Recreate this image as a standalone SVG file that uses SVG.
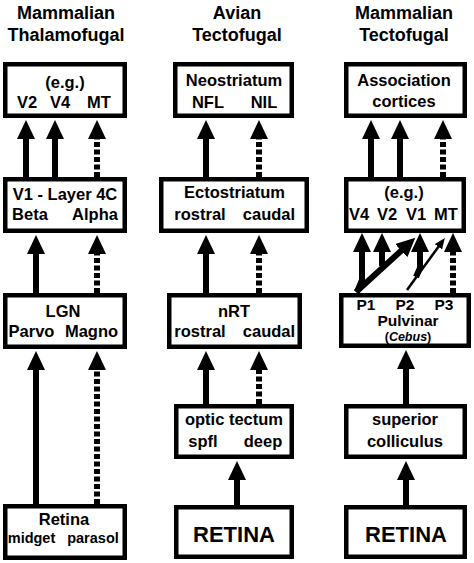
<svg xmlns="http://www.w3.org/2000/svg" width="474" height="563" viewBox="0 0 474 563">
<style>
.box{fill:#fff;stroke:#000;stroke-width:4.5}
text{font-family:"Liberation Sans",Arial,sans-serif;font-weight:bold;fill:#000;text-anchor:middle}
.t{font-size:18px}
.b{font-size:16.5px}
.p{font-size:15.5px}
.s{font-size:14.5px}
.r{font-size:22px}
.c{font-size:12.5px;font-weight:bold}
.sh{stroke:#000;stroke-width:6;fill:none}
.d{stroke-dasharray:5 2.5}
.th{stroke:#000;stroke-width:2.5;fill:none}
</style>
<defs>
<marker id="ah" markerUnits="userSpaceOnUse" markerWidth="20" markerHeight="18" refX="1" refY="9" orient="auto">
<path d="M0,0 L19,9 L0,18 z" fill="#000"/>
</marker>
<marker id="ahs" markerUnits="userSpaceOnUse" markerWidth="12" markerHeight="9" refX="1" refY="4.5" orient="auto">
<path d="M0,0 L11,4.5 L0,9 z" fill="#000"/>
</marker>
</defs>
<g id="titles">
<text class="t" x="66" y="19">Mammalian</text>
<text class="t" x="66" y="41">Thalamofugal</text>
<text class="t" x="237" y="19">Avian</text>
<text class="t" x="237" y="41">Tectofugal</text>
<text class="t" x="404" y="19">Mammalian</text>
<text class="t" x="404" y="41">Tectofugal</text>
</g>
<g id="n-eg1"><rect class="box" x="5.25" y="64.25" width="119.5" height="51.5"/>
<text class="b" x="65" y="88">(e.g.)</text>
<text class="b" x="27" y="108">V2</text><text class="b" x="60" y="108">V4</text><text class="b" x="99" y="108">MT</text></g>
<g id="n-v1"><rect class="box" x="5.25" y="179.25" width="119.5" height="51.5"/>
<text class="b" x="65" y="200">V1 - Layer 4C</text>
<text class="b" x="30" y="220">Beta</text><text class="b" x="95" y="220">Alpha</text></g>
<g id="n-lgn"><rect class="box" x="5.25" y="295.25" width="119.5" height="51.5"/>
<text class="b" x="63" y="317">LGN</text>
<text class="b" x="31.5" y="337">Parvo</text><text class="b" x="91.5" y="337">Magno</text></g>
<g id="n-retina1"><rect class="box" x="5.25" y="506.25" width="119.5" height="51.5"/>
<text class="b" x="64" y="525">Retina</text>
<text class="s" x="31.5" y="543">midget</text><text class="s" x="93" y="543">parasol</text></g>

<g id="n-neo"><rect class="box" x="175.25" y="64.25" width="116.5" height="51.5"/>
<text class="b" x="234" y="86">Neostriatum</text>
<text class="b" x="208" y="108">NFL</text><text class="b" x="264" y="108">NIL</text></g>
<g id="n-ecto"><rect class="box" x="161.25" y="179.25" width="145.5" height="51.5"/>
<text class="b" x="234.5" y="198">Ectostriatum</text>
<text class="b" x="200" y="220">rostral</text><text class="b" x="269" y="220">caudal</text></g>
<g id="n-nrt"><rect class="box" x="169.25" y="295.25" width="130.5" height="51.5"/>
<text class="b" x="234" y="317">nRT</text>
<text class="b" x="200" y="337">rostral</text><text class="b" x="269" y="337">caudal</text></g>
<g id="n-ot"><rect class="box" x="176.25" y="406.25" width="115.5" height="50.5"/>
<text class="b" x="234" y="425">optic tectum</text>
<text class="b" x="203" y="447">spfl</text><text class="b" x="263" y="447">deep</text></g>
<g id="n-retina2"><rect class="box" x="176.25" y="507.25" width="115.5" height="49.5"/>
<text class="r" x="234" y="542">RETINA</text></g>

<g id="n-assoc"><rect class="box" x="346.25" y="64.25" width="118.5" height="51.5"/>
<text class="b" x="404" y="86">Association</text>
<text class="b" x="404" y="107">cortices</text></g>
<g id="n-eg3"><rect class="box" x="346.25" y="179.25" width="117.5" height="51.5"/>
<text class="b" x="404" y="198">(e.g.)</text>
<text class="b" x="359" y="220">V4</text><text class="b" x="387" y="220">V2</text><text class="b" x="416" y="220">V1</text><text class="b" x="446" y="220">MT</text></g>
<g id="n-pulv"><rect class="box" x="341.25" y="295.25" width="127.5" height="50.5"/>
<text class="p" x="366" y="310">P1</text><text class="p" x="405" y="310">P2</text><text class="p" x="444" y="310">P3</text>
<text class="p" x="408" y="326">Pulvinar</text>
<text class="c" x="408" y="341">(<tspan font-style="italic">Cebus</tspan>)</text></g>
<g id="n-sc"><rect class="box" x="346.25" y="406.25" width="118.5" height="50.5"/>
<text class="b" x="405" y="425">superior</text>
<text class="b" x="405" y="447">colliculus</text></g>
<g id="n-retina3"><rect class="box" x="346.25" y="507.25" width="118.5" height="49.5"/>
<text class="r" x="406" y="542">RETINA</text></g>

<g id="connectors">
<line class="sh" x1="26" y1="177" x2="26" y2="138" marker-end="url(#ah)"/>
<line class="sh" x1="55" y1="177" x2="55" y2="138" marker-end="url(#ah)"/>
<line class="sh d" x1="97" y1="177" x2="97" y2="138" marker-end="url(#ah)"/>
<line class="sh" x1="36" y1="293" x2="36" y2="253" marker-end="url(#ah)"/>
<line class="sh d" x1="97" y1="293" x2="97" y2="253" marker-end="url(#ah)"/>
<line class="sh" x1="36" y1="504" x2="36" y2="369" marker-end="url(#ah)"/>
<line class="sh d" x1="97" y1="504" x2="97" y2="369" marker-end="url(#ah)"/>

<line class="sh" x1="206" y1="177" x2="206" y2="138" marker-end="url(#ah)"/>
<line class="sh d" x1="259" y1="177" x2="259" y2="138" marker-end="url(#ah)"/>
<line class="sh" x1="206" y1="293" x2="206" y2="253" marker-end="url(#ah)"/>
<line class="sh d" x1="259" y1="293" x2="259" y2="253" marker-end="url(#ah)"/>
<line class="sh" x1="206" y1="404" x2="206" y2="369" marker-end="url(#ah)"/>
<line class="sh d" x1="259" y1="404" x2="259" y2="369" marker-end="url(#ah)"/>
<line class="sh" x1="237" y1="505" x2="237" y2="479" marker-end="url(#ah)"/>

<line class="sh" x1="371" y1="177" x2="371" y2="138" marker-end="url(#ah)"/>
<line class="sh" x1="400" y1="177" x2="400" y2="138" marker-end="url(#ah)"/>
<line class="sh d" x1="443" y1="177" x2="443" y2="138" marker-end="url(#ah)"/>
<path class="sh" d="M357,292 L362,280 L362,251" marker-end="url(#ah)"/>
<path class="sh" d="M382,266 L382,251" marker-end="url(#ah)"/>
<line class="sh" x1="356" y1="292" x2="402" y2="250" stroke-width="5" marker-end="url(#ah)"/>
<path class="sh" d="M416,277 L420,268 L420,251" marker-end="url(#ah)"/>
<line class="th" x1="407" y1="290" x2="439" y2="246" marker-end="url(#ahs)"/>
<line class="sh d" x1="453" y1="293" x2="453" y2="251" marker-end="url(#ah)"/>
<line class="sh" x1="406" y1="404" x2="406" y2="368" marker-end="url(#ah)"/>
<line class="sh" x1="406" y1="505" x2="406" y2="479" marker-end="url(#ah)"/>
</g>
</svg>
